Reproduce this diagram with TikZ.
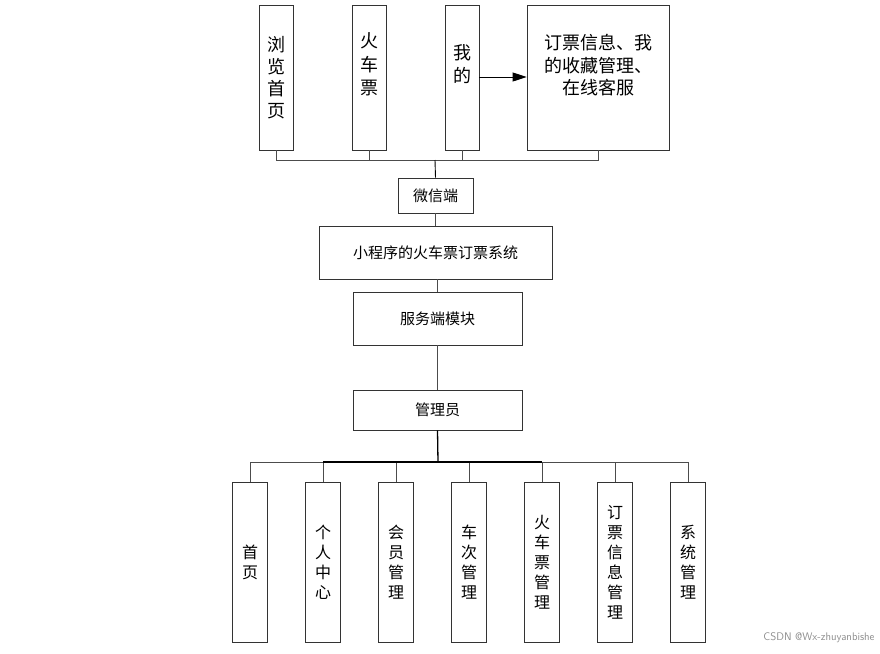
\documentclass[tikz,border=0pt]{standalone}
\usepackage{fontspec}
\newfontfamily\cjk{Noto Sans CJK SC}
\usetikzlibrary{arrows.meta}
\begin{document}
\begin{tikzpicture}[x=1pt,y=-1pt,
  box/.style={draw=black!80,line width=0.8pt,fill=white,inner sep=0pt,font=\cjk\fontsize{#1}{#1}\selectfont,align=center},
  box/.default=15,
  ln/.style={draw=black!70,line width=0.9pt}]
\useasboundingbox (0,0) rectangle (880,653);
% top boxes
\node[box=18,minimum width=34pt,minimum height=145pt] (a) at (276,77.5) {浏\\[4pt]览\\[4pt]首\\[4pt]页};
\node[box=18,minimum width=34pt,minimum height=145pt,text depth=0pt] (b) at (369,77.5) {\raisebox{28pt}{\shortstack{火\\[4pt]车\\[4pt]票}}};
\node[box=18,minimum width=34pt,minimum height=145pt] (c) at (462,77.5) {\raisebox{28pt}{\shortstack{我\\[4pt]的}}};
\node[box=18,minimum width=142pt,minimum height=145pt] (d) at (598,77.5) {\raisebox{26pt}{\shortstack{订票信息、我\\[3pt]的收藏管理、\\[3pt]在线客服}}};
\draw[-{Triangle[length=14pt,width=9pt]},line width=0.9pt] (c.east |- 0,77) -- (d.west |- 0,77);
\node[box,minimum width=75pt,minimum height=35pt] (w) at (435.5,195.5) {微信端};
\node[box,minimum width=233pt,minimum height=53pt] (s) at (435.5,252.5) {小程序的火车票订票系统};
\node[box,minimum width=169pt,minimum height=53pt] (f) at (437.5,318.5) {服务端模块};
\node[box,minimum width=169pt,minimum height=40pt] (g) at (437.5,410) {管理员};
\coordinate (t) at (435,160);
\foreach \n in {a,b,c,d} \draw[ln] (\n.south) |- (t);
\draw[ln,black] (t) -- (w.north);
\draw[ln] (w.south) -- (w.south |- s.north);
\draw[ln] (s.south -| f.north) -- (f.north);
\draw[ln] (f.south) -- (g.north);
\coordinate (u) at (438,462);
\draw[line width=1.3pt] (g.south) -- (u);
\foreach \n/\x/\t in {p1/250/{首\\[4pt]页},p2/323/{个\\[4pt]人\\[4pt]中\\[4pt]心},p3/396/{会\\[4pt]员\\[4pt]管\\[4pt]理},p4/469/{车\\[4pt]次\\[4pt]管\\[4pt]理},p5/542/{火\\[4pt]车\\[4pt]票\\[4pt]管\\[4pt]理},p6/615/{订\\[4pt]票\\[4pt]信\\[4pt]息\\[4pt]管\\[4pt]理},p7/688/{系\\[4pt]统\\[4pt]管\\[4pt]理}} {
  \node[box=16,minimum width=35pt,minimum height=160pt] (\n) at (\x,562) {\t};
  \draw[ln] (\n.north) |- (u);
}
\draw[line width=1.3pt] (p2.north |- u) -- (p5.north |- u);
\node[font=\sffamily\fontsize{11}{11}\selectfont,text=black!45,anchor=east] (wm) at (878,638) {CSDN @Wx-zhuyanbishe};
\end{tikzpicture}
\end{document}
